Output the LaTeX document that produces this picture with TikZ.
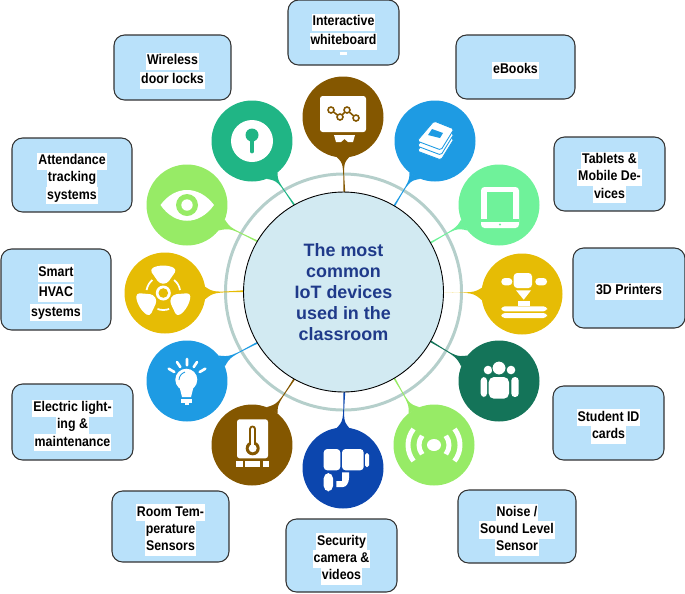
\documentclass[tikz,border=0pt]{standalone}
\usepackage{fontspec}
\setmainfont{Liberation Sans}
\newfontfamily\labelfont[FakeStretch=0.88]{Liberation Sans}
\usetikzlibrary{calc}
\definecolor{iotBrown}{HTML}{845700}
\definecolor{iotTeal}{HTML}{20B585}
\definecolor{iotBlue}{HTML}{1E9BE3}
\definecolor{iotMint}{HTML}{6FF29A}
\definecolor{iotYellow}{HTML}{E6BC05}
\definecolor{iotDark}{HTML}{147459}
\definecolor{iotLime}{HTML}{97EB66}
\definecolor{iotNavy}{HTML}{0C46AE}
\definecolor{hubFill}{HTML}{D2EAF2}
\definecolor{hubText}{HTML}{1F3A8A}
\definecolor{ringGray}{HTML}{B5CFCB}
\definecolor{boxFill}{HTML}{B9E1FA}
\definecolor{boxLine}{HTML}{333333}
\setlength{\fboxsep}{0pt}
\newcommand{\hlline}[1]{\raisebox{0pt}[8.8pt][1pt]{\colorbox{white}{\kern0.5pt\strut#1\kern0.5pt}}}
\tikzset{
  boxL/.style={rectangle, rounded corners=6pt, draw=boxLine, fill=boxFill, line width=0.6pt,
               align=center, inner sep=0pt, font=\labelfont\bfseries\fontsize{8}{9.8}\selectfont},
  bubble/.style={circle, inner sep=0pt, outer sep=0pt, minimum size=1.62cm},
  ic/.style={fill=white},
}
\begin{document}
\begin{tikzpicture}[x=0.02cm, y=-0.02cm]
  \useasboundingbox (0,0) rectangle (685,593);
  \coordinate (mid) at (343.5,292);
  \draw[ringGray, line width=1.7pt] (mid) circle (118);
  \node[circle, inner sep=0pt, outer sep=0pt, minimum size=4cm] (hub) at (mid) {};
  \foreach \nm/\x/\y/\th/\col in {wb/343/117/90/iotBrown, lock/252/141/120/iotTeal, books/435/141/60/iotBlue,
      tablet/499/205/30/iotMint, printer/522/294/0/iotYellow, group/499/381/-30/iotDark,
      noise/434/445/-60/iotLime, cam/343/468/-90/iotNavy, thermo/252/445/-120/iotBrown,
      bulb/187/381/-150/iotBlue, fan/165/293/180/iotYellow, eye/187/205/150/iotLime} {
    \node[bubble, fill=\col] (\nm) at (\x,\y) {};
    \pgfmathsetmacro{\angA}{\th+180+9}
    \pgfmathsetmacro{\angB}{\th+180-9}
    \pgfmathsetmacro{\tipA}{\th-0.7}
    \pgfmathsetmacro{\tipB}{\th+0.7}
    \fill[\col] (\nm.\angA) .. controls ($(\nm)!0.62!(hub.\th)$) .. (hub.\tipA)
      -- (hub.\tipB) .. controls ($(\nm)!0.62!(hub.\th)$) .. (\nm.\angB) -- cycle;
  }
  \node[circle, draw=black, line width=0.5pt, fill=hubFill, inner sep=0pt, outer sep=0pt, minimum size=4cm,
        align=center, text=hubText, font=\bfseries\fontsize{10.2}{12}\selectfont] at (mid)
        {The most\\common\\IoT devices\\used in the\\classroom};

  \node[boxL, minimum width=2.22cm, minimum height=1.3cm] (bWb) at (343.5,32.5)
        {\hlline{Interactive}\\[1pt]\hlline{whiteboard}\\[-4pt]\colorbox{white}{\textcolor{white}{\rule{4pt}{1.6pt}}}};
  \node[boxL, minimum width=2.38cm, minimum height=1.28cm] (bBooks) at (515.5,67) {\hlline{eBooks}};
  \node[boxL, minimum width=2.34cm, minimum height=1.3cm] (bLock) at (172.5,67.5) {\hlline{Wireless}\\[1pt]\hlline{door locks}};
  \node[boxL, minimum width=2.22cm, minimum height=1.48cm] (bTablet) at (609.5,174) {\hlline{Tablets \&}\\\hlline{Mobile De-}\\\hlline{vices}};
  \node[boxL, minimum width=2.24cm, minimum height=1.6cm] (bPrinter) at (629,288) {\hlline{3D Printers}};
  \node[boxL, minimum width=2.22cm, minimum height=1.48cm] (bGroup) at (608.5,423) {\hlline{Student ID}\\\hlline{cards}};
  \node[boxL, minimum width=2.36cm, minimum height=1.46cm] (bNoise) at (517,526.5) {\hlline{Noise /}\\\hlline{Sound Level}\\\hlline{Sensor}};
  \node[boxL, minimum width=2.22cm, minimum height=1.46cm] (bCam) at (341.5,555.5) {\hlline{Security}\\\hlline{camera \&}\\\hlline{videos}};
  \node[boxL, minimum width=2.34cm, minimum height=1.42cm] (bThermo) at (170.5,526.5) {\hlline{Room Tem-}\\\hlline{perature}\\\hlline{Sensors}};
  \node[boxL, minimum width=2.42cm, minimum height=1.52cm] (bBulb) at (72.5,422) {\hlline{Electric light-}\\\hlline{ing \&}\\\hlline{maintenance}};
  \node[boxL, minimum width=2.4cm, minimum height=1.48cm] (bEye) at (72,175) {\hlline{Attendance}\\\hlline{tracking}\\\hlline{systems}};
  \node[boxL, minimum width=2.2cm, minimum height=1.62cm] (bFan) at (56,289.5) {\hlline{Smart}\\[1.5pt]\hlline{HVAC}\\[1.5pt]\hlline{systems}};

  \begin{scope}[shift={(wb)}]
    \fill[ic, rounded corners=1.5pt] (-23,-21) rectangle (23,15);
    \fill[ic] (-9,18) -- (12,18) -- (10,25) -- (5,25) -- (1.5,22) -- (-2,25) -- (-7,25) -- cycle;
    \draw[iotBrown, line width=0.9pt, fill=white] (-12,-7) -- (-3,0) -- (4,-7) -- (13,1);
    \foreach \px/\py in {-12/-7, -3/0, 4/-7, 13/1} \draw[iotBrown, line width=0.9pt, fill=white] (\px,\py) circle (3);
  \end{scope}
  \begin{scope}[shift={(lock)}]
    \fill[ic] (0,0) circle (21);
    \fill[iotTeal] (0,-6) circle (6.5);
    \draw[iotTeal, line width=2.8pt, line cap=round] (0,-6) -- (0,10);
  \end{scope}
  \begin{scope}[shift={(books)}]
    \foreach \s in {10,5,0}
      \draw[iotBlue, line width=0.5pt, fill=white, rounded corners=1pt] (-1,-20+\s) -- (19,-12+\s) -- (6,9+\s) -- (-18,\s) -- cycle;
    \fill[iotBlue] (-3,-12) -- (8,-8) -- (5,-3) -- (-7,-6) -- cycle;
  \end{scope}
  \begin{scope}[shift={(tablet)}]
    \fill[ic, rounded corners=2pt] (-18,-18) rectangle (20,23);
    \fill[iotMint] (-12,-13) rectangle (14,14);
    \fill[iotMint] (-18,14) rectangle (20,17);
    \fill[iotMint] (1,19.5) circle (1.2);
  \end{scope}
  \begin{scope}[shift={(printer)}]
    \fill[ic, rounded corners=2pt] (-8.3,-21) rectangle (10,-6);
    \fill[ic, rounded corners=2pt] (-20.7,-16) rectangle (-9.7,-8.7);
    \fill[ic, rounded corners=2pt] (13.3,-16) rectangle (25,-8.7);
    \fill[ic] (-6,-3.7) -- (9,-3.7) -- (1.7,5.7) -- cycle;
    \fill[ic] (-4.3,7.3) rectangle (7.7,12.3);
    \fill[ic, rounded corners=2pt] (-20.7,12.3) rectangle (25,17.3);
    \fill[ic, rounded corners=2pt] (-20.7,19) rectangle (25,24);
  \end{scope}
  \begin{scope}[shift={(group)}]
    \fill[ic] (-11,-11) circle (4.3);
    \fill[ic] (12,-11) circle (4.3);
    \fill[ic, rounded corners=2pt] (-18.3,-4) rectangle (-12,16);
    \fill[ic, rounded corners=2pt] (12.3,-4) rectangle (19.7,16);
    \draw[iotDark, line width=0.5pt, fill=white] (0,-13) circle (7);
    \fill[ic, rounded corners=3pt] (-10.3,-4) rectangle (10,17.7);
  \end{scope}
  \begin{scope}[shift={(noise)}]
    \fill[ic] (0,0) ellipse (7 and 6);
    \foreach \r in {15,26} {
      \draw[white, line width=2.8pt] (-38:\r) arc (-38:38:\r);
      \draw[white, line width=2.8pt] (142:\r) arc (142:218:\r);
    }
  \end{scope}
  \begin{scope}[shift={(cam)}]
    \fill[ic, rounded corners=2pt] (-19.3,-19) rectangle (-2.7,2.3);
    \fill[ic, rounded corners=2pt] (-1,-19) rectangle (20.7,2.3);
    \fill[ic, rounded corners=1pt] (22,-15) rectangle (26,-1);
    \fill[ic, rounded corners=3pt] (-19.3,5) rectangle (-10,23.3);
    \fill[ic] (-1,4.3) -- (6,4.3) -- (6,10) .. controls (6,15) and (3,19) .. (0,19) -- (-6.7,19) -- (-6.7,13) -- (-1,13) -- cycle;
  \end{scope}
  \begin{scope}[shift={(thermo)}]
    \fill[ic, rounded corners=1.5pt] (-15,-25.7) rectangle (16,13.3);
    \draw[iotBrown, line width=4pt, line cap=round] (0.7,-16) -- (0.7,3);
    \fill[iotBrown] (0.7,3.3) circle (7);
    \draw[white, line width=2pt, line cap=round] (0.7,-16) -- (0.7,3);
    \fill[ic] (0.7,3.3) circle (4);
    \fill[ic] (-15.7,16) rectangle (-9.3,22.3);
    \fill[ic] (-7,16) rectangle (8.3,22.3);
    \fill[ic] (10.7,16) rectangle (16.7,22.3);
  \end{scope}
  \begin{scope}[shift={(bulb)}]
    \fill[ic] (-0.7,-1.3) circle (11);
    \fill[ic] (-8,4) -- (-5,16) -- (4,16) -- (7,4) -- cycle;
    \fill[ic] (-5.7,18) rectangle (5,21.5);
    \fill[ic] (-2.5,21.5) rectangle (2,24);
    \draw[iotBlue, line width=0.5pt] (-8,-1) .. controls (-8,-5) and (-5,-8) .. (-2,-9);
    \draw[white, line width=1.5pt, line cap=round] (0,-22) -- (0,-15.7) (-10,-19) -- (-6.7,-14) (10,-19) -- (6.7,-14)
      (-18.3,-12.3) -- (-12.7,-9) (18.3,-12.3) -- (12.7,-9);
  \end{scope}
  \begin{scope}[shift={(fan)}]
    \foreach \a in {-90,30,150} {
      \fill[ic, rounded corners=2pt] ($(-1.7,0)+(\a-22:10)$) -- ($(-1.7,0)+(\a-30:27)$) arc (\a-30:\a+30:27) -- ($(-1.7,0)+(\a+22:10)$) -- cycle;
      \draw[white, line width=1pt] ($(-1.7,0)+(\a+40:17)$) arc (\a+40:\a+80:17);
    }
    \fill[ic] (-1.7,0) circle (7.5);
    \fill[iotYellow] (-1.7,0) circle (4.8);
  \end{scope}
  \begin{scope}[shift={(eye)}]
    \fill[ic] (-26.5,0) .. controls (-12,-20) and (12,-20) .. (27,0) .. controls (12,21) and (-12,21) .. cycle;
    \fill[iotLime] (0,0) circle (11);
    \fill[ic] (0,0) circle (5.7);
  \end{scope}
\end{tikzpicture}
\end{document}
